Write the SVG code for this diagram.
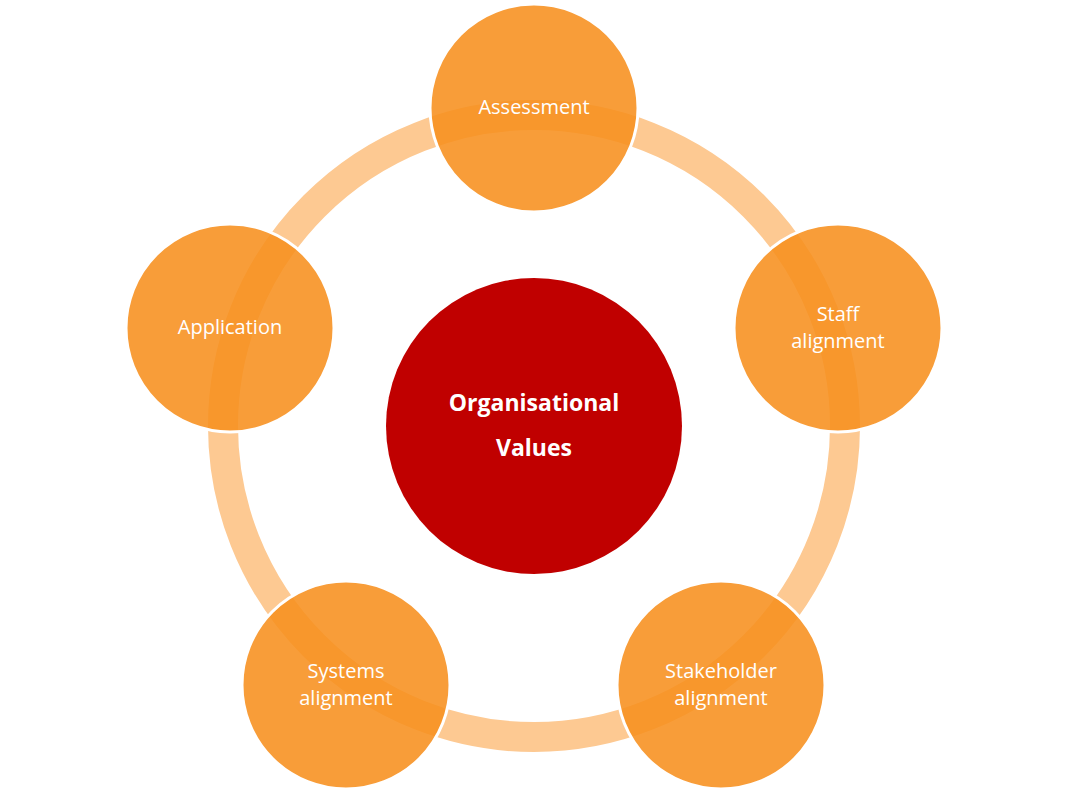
<svg xmlns="http://www.w3.org/2000/svg" width="1067" height="796" viewBox="0 0 1067 796">
<style>
.sat{fill:#F7901E;fill-opacity:0.88;stroke:#fff;stroke-width:3}
.t{font-family:"Open Sans","Liberation Sans",sans-serif;font-size:20px;fill:#fff;text-anchor:middle}
.c{font-family:"Open Sans","Liberation Sans",sans-serif;font-size:23px;font-weight:bold;fill:#fff;text-anchor:middle}
</style>
<rect width="1067" height="796" fill="#fff"/>
<g id="connectors">
<circle cx="534" cy="426" r="311" fill="none" stroke="#FDC992" stroke-width="30"/>
</g>
<g id="center"><circle cx="534" cy="426" r="148" fill="#C00000"/>
<text class="c" x="534" y="411">Organisational</text><text class="c" x="534" y="456">Values</text></g>
<g id="assessment"><circle class="sat" cx="534" cy="108" r="104"/><text class="t" x="534" y="114">Assessment</text></g>
<g id="staff"><circle class="sat" cx="838" cy="328" r="104"/><text class="t" x="838" y="321">Staff</text><text class="t" x="838" y="348">alignment</text></g>
<g id="stakeholder"><circle class="sat" cx="721" cy="685" r="104"/><text class="t" x="721" y="678">Stakeholder</text><text class="t" x="721" y="705">alignment</text></g>
<g id="systems"><circle class="sat" cx="346" cy="685" r="104"/><text class="t" x="346" y="678">Systems</text><text class="t" x="346" y="705">alignment</text></g>
<g id="application"><circle class="sat" cx="230" cy="328" r="104"/><text class="t" x="230" y="334">Application</text></g>
</svg>
